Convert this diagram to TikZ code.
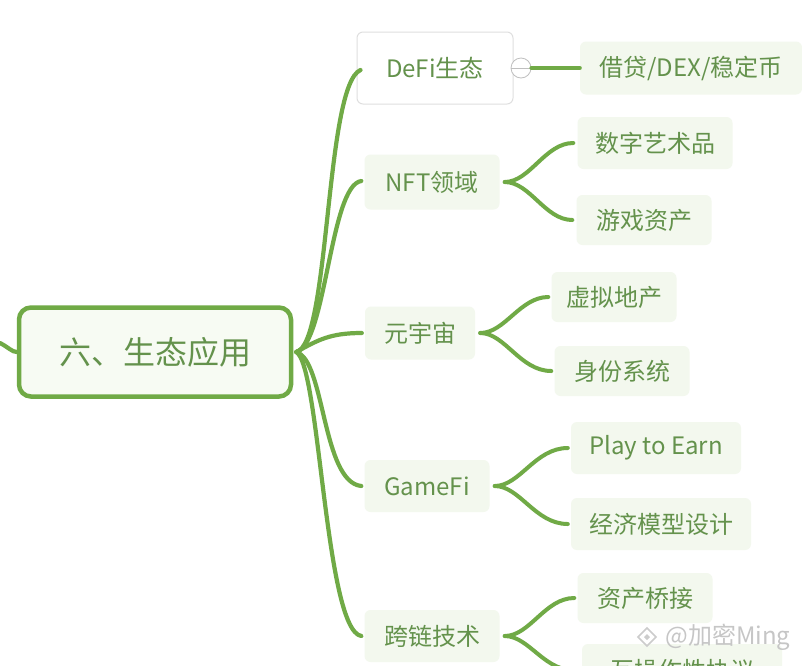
\documentclass[tikz,border=0pt]{standalone}
\usepackage{fontspec}
\newfontfamily\cjk{Noto Sans CJK SC}
\usetikzlibrary{calc}
\definecolor{lgreen}{RGB}{112,170,70}
\definecolor{tgreen}{RGB}{100,146,76}
\definecolor{nfill}{RGB}{243,248,238}
\definecolor{rfill}{RGB}{247,251,243}
\tikzset{
  rootbox/.style={draw=lgreen, line width=4.5pt, rounded corners=12pt, fill=rfill,
    minimum width=272pt, minimum height=89pt, text=tgreen,
    font=\cjk\fontsize{32}{32}\selectfont},
  childbox/.style={fill=nfill, rounded corners=6pt, text=tgreen, inner sep=0pt,
    font=\cjk\fontsize{24}{24}\selectfont},
  leafbox/.style={childbox},
  branch/.style={draw=lgreen, line width=4.2pt, line cap=round},
  fork/.style={draw=lgreen, line width=4pt, line cap=round},
}
\begin{document}
\begin{tikzpicture}[x=1pt,y=-1pt]
\useasboundingbox (0,0) rectangle (802,665);
\clip (0,0) rectangle (802,665);
\fill[white] (0,0) rectangle (802,665);

% root
\node[rootbox] (root) at (155,352) {六、生态应用};
\coordinate (lft) at (0,343);
\draw[branch] (lft) .. controls (8,347) and (12,352) .. (root.west);

% children
\node[childbox, fill=white, draw=gray!25, line width=1pt, minimum width=156pt, minimum height=72pt] (defi) at (435,68) {DeFi生态};
\node[childbox, minimum width=135pt, minimum height=55pt] (nft) at (432,182) {NFT领域};
\node[childbox, minimum width=110pt, minimum height=53pt] (meta) at (420,333) {元宇宙};
\node[childbox, minimum width=125pt, minimum height=52pt] (gamefi) at (427,486) {GameFi};
\node[childbox, minimum width=135pt, minimum height=52pt] (cross) at (432,636) {跨链技术};

% leaves
\node[leafbox, minimum width=222pt, minimum height=53pt] (lend) at (691,68) {借贷/DEX/稳定币};
\node[leafbox, minimum width=155pt, minimum height=52pt] (art) at (655,143) {数字艺术品};
\node[leafbox, minimum width=135pt, minimum height=50pt] (gasset) at (644,220) {游戏资产};
\node[leafbox, minimum width=125pt, minimum height=50pt] (land) at (614,297) {虚拟地产};
\node[leafbox, minimum width=135pt, minimum height=50pt] (ident) at (622,371) {身份系统};
\node[leafbox, minimum width=170pt, minimum height=52pt] (p2e) at (656,448) {Play to Earn};
\node[leafbox, minimum width=180pt, minimum height=52pt] (econ) at (661,524) {经济模型设计};
\node[leafbox, minimum width=135pt, minimum height=50pt] (bridge) at (645,598) {资产桥接};
\node[leafbox, minimum width=200pt, minimum height=52pt] (interop) at (682,670) {互操作性协议};

% branches from root
\coordinate (o) at ($(root.east)+(3,0)$);
\draw[branch] (o) .. controls (330,345) and (325,85) .. ($(defi.west)+(4,2)$);
\draw[branch] (o) .. controls (326,345) and (330,185) .. ($(nft.west)+(-3,-1)$);
\draw[branch] (o) .. controls (318,340) and (330,333) .. ($(meta.west)+(-3,0)$);
\draw[branch] (o) .. controls (325,360) and (322,482) .. ($(gamefi.west)+(-3,0)$);
\draw[branch] (o) .. controls (320,365) and (325,630) .. ($(cross.west)+(-3,0)$);

% DeFi collapse marker and leaf
\node[circle, draw=gray!50, fill=white, line width=0.8pt, minimum size=20pt, inner sep=0pt] (knob) at (521,68) {};
\draw[gray!50, line width=0.8pt] (knob.west) -- (knob.east);
\draw[fork] (knob.east) -- (lend.west);

% forks
\coordinate (fn) at ($(nft.east)+(5,0)$);
\draw[fork] (fn) .. controls (530,182) and (545,143) .. ($(art.west)+(-4,0)$);
\draw[fork] (fn) .. controls (530,182) and (545,220) .. ($(gasset.west)+(-4,0)$);
\coordinate (fm) at ($(meta.east)+(5,0)$);
\draw[fork] (fm) .. controls (505,333) and (520,297) .. ($(land.west)+(-3,0)$);
\draw[fork] (fm) .. controls (505,333) and (520,371) .. ($(ident.west)+(-3,0)$);
\coordinate (fg) at ($(gamefi.east)+(5,0)$);
\draw[fork] (fg) .. controls (520,486) and (535,448) .. ($(p2e.west)+(-3,0)$);
\draw[fork] (fg) .. controls (520,486) and (535,524) .. ($(econ.west)+(-3,0)$);
\coordinate (fc) at ($(cross.east)+(5,0)$);
\draw[fork] (fc) .. controls (530,636) and (545,598) .. ($(bridge.west)+(-3,0)$);
\draw[fork] (fc) .. controls (530,636) and (545,674) .. ($(interop.west)+(-3,0)$);

% watermark
\node[text=gray!45, font=\cjk\fontsize{24}{24}\selectfont, inner sep=0pt] (wm) at (728,637) {@加密Ming};
\coordinate (wmi) at (647,637);
\draw[gray!40, line width=1.5pt] ($(wmi)+(0,-9)$) -- ($(wmi)+(9,0)$) -- ($(wmi)+(0,9)$) -- ($(wmi)+(-9,0)$) -- cycle;
\fill[gray!40] ($(wmi)+(0,-3)$) -- ($(wmi)+(3,0)$) -- ($(wmi)+(0,3)$) -- ($(wmi)+(-3,0)$) -- cycle;
\end{tikzpicture}
\end{document}
